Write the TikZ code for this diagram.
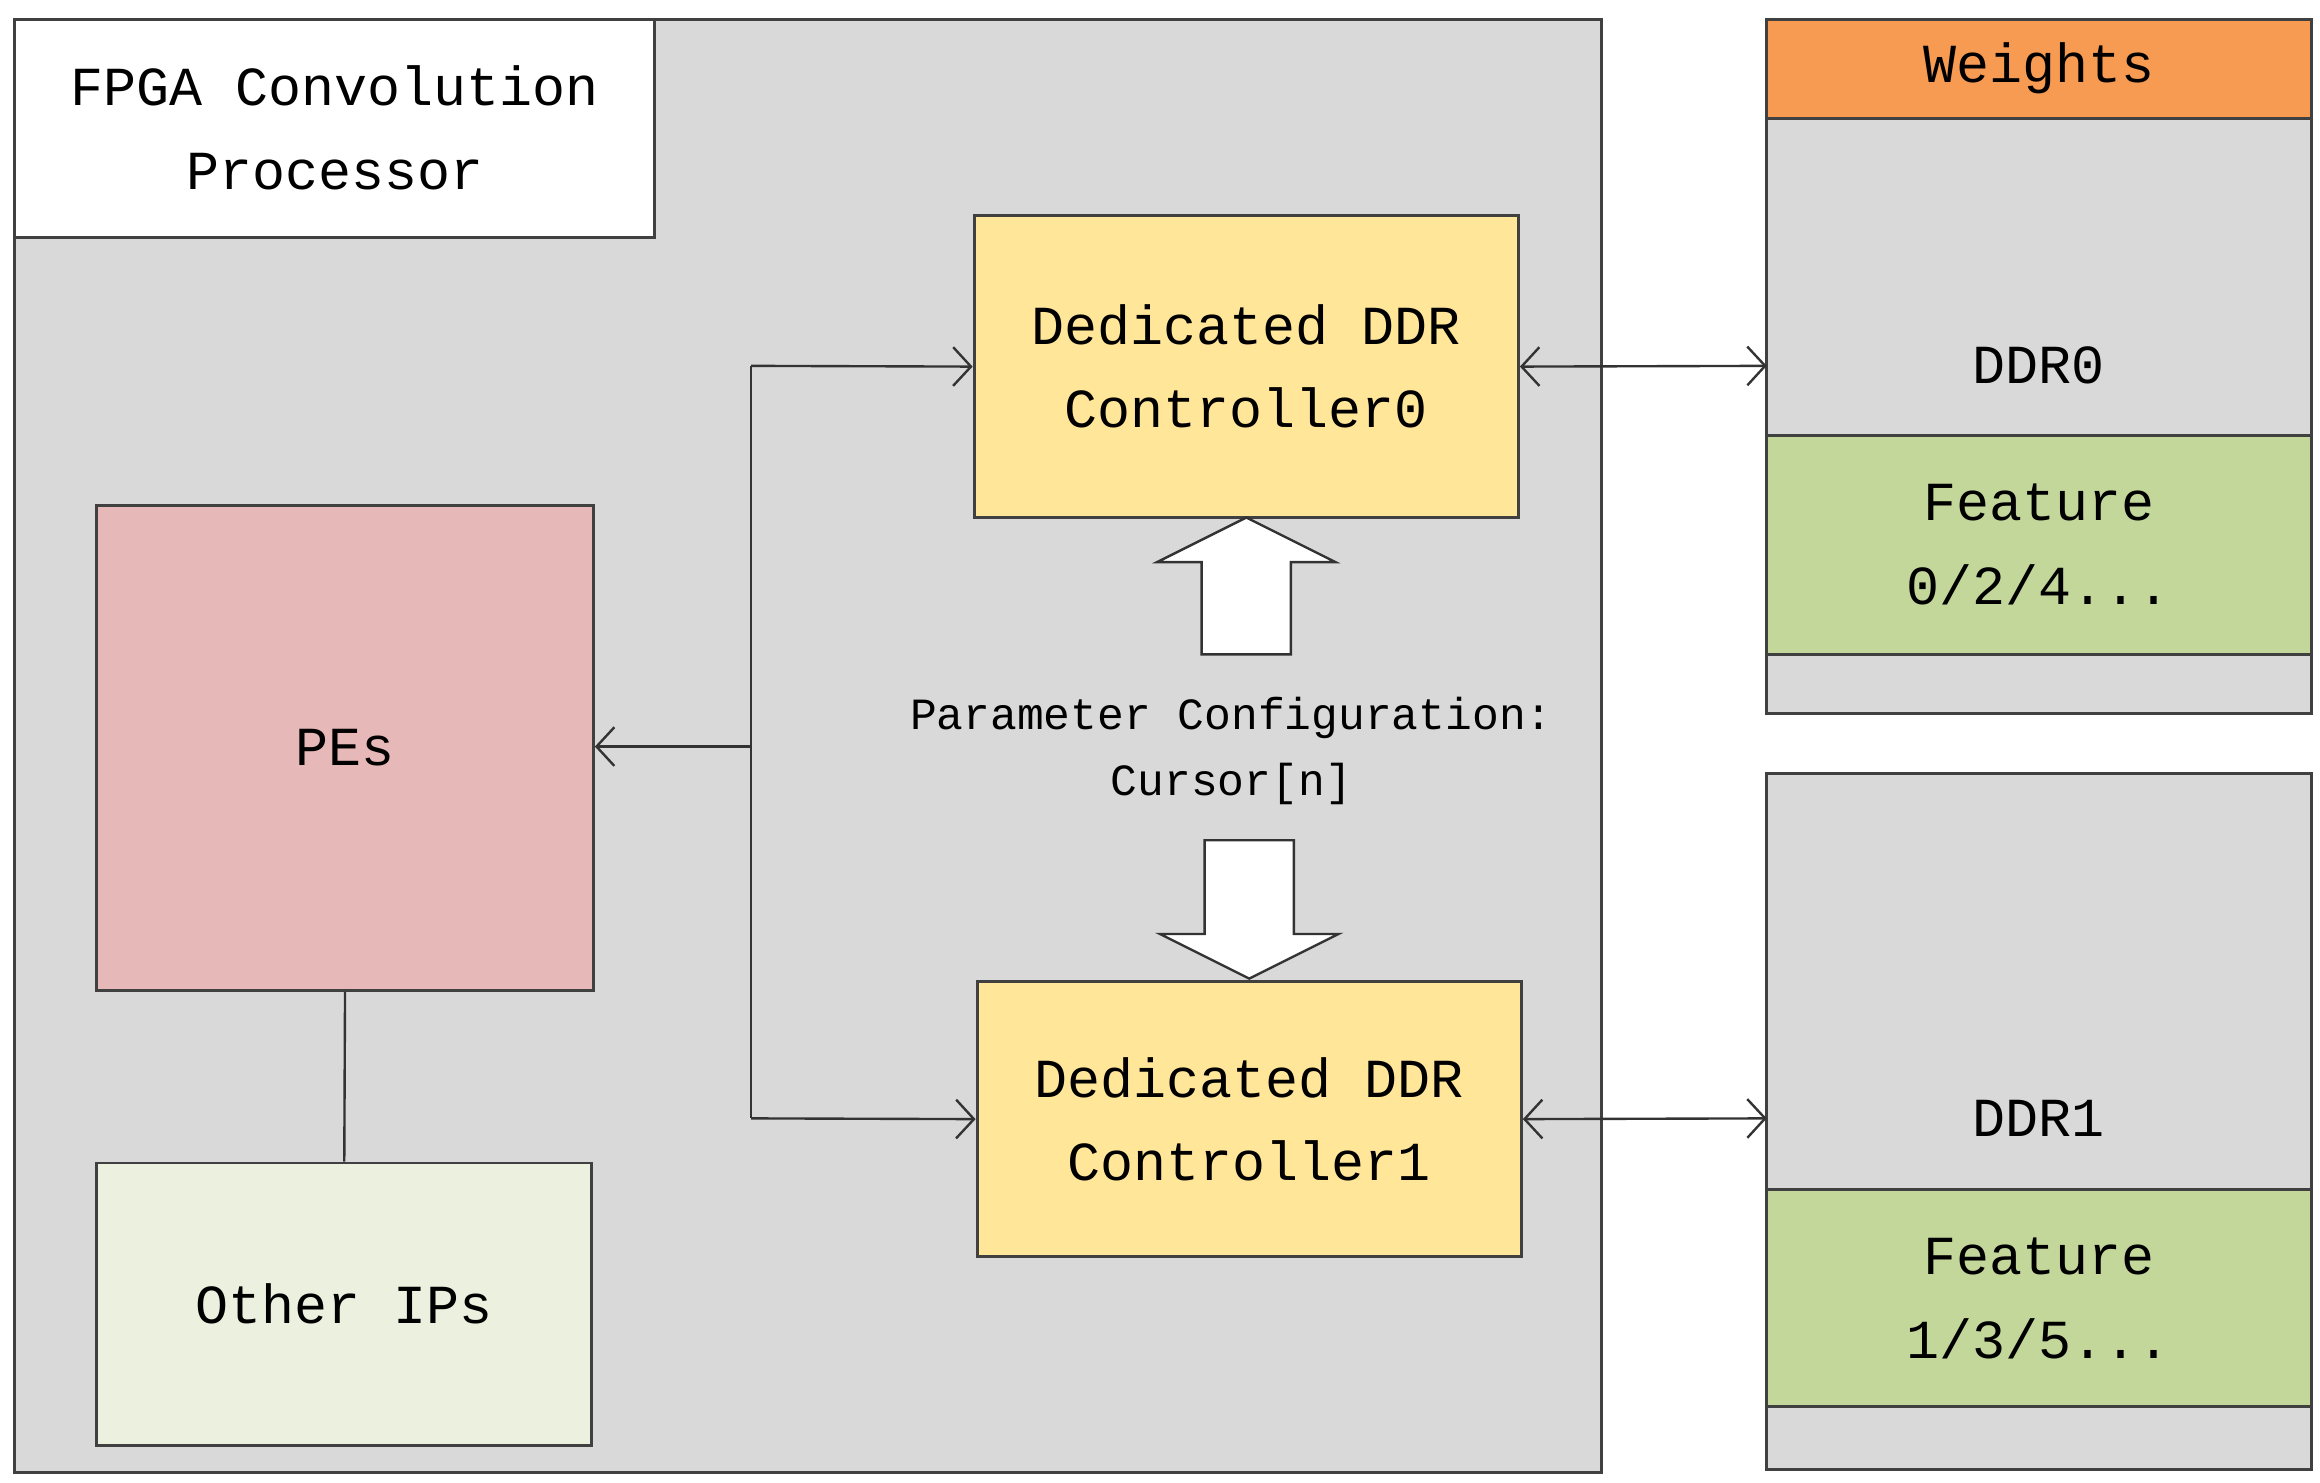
\documentclass[tikz,border=0pt]{standalone}
\usepackage{fontspec}
\setmainfont{Liberation Mono}
\usetikzlibrary{arrows.meta}
\begin{document}
\begin{tikzpicture}[x=1pt,y=-1pt,
  bx/.style={draw=black!75,line width=2pt},
  ar/.style={line width=1.6pt,draw=black!80,-{Straight Barb[length=12pt,width=26pt]}},
  dar/.style={line width=1.6pt,draw=black!80,{Straight Barb[length=12pt,width=26pt]}-{Straight Barb[length=12pt,width=26pt]}},
  txt/.style={font=\fontsize{37}{56}\selectfont,align=center}]
\useasboundingbox (0,0) rectangle (1560,997);
\definecolor{bg}{HTML}{D9D9D9}
\definecolor{ctl}{HTML}{FFE699}
\definecolor{pe}{HTML}{E6B8B7}
\definecolor{oip}{HTML}{EBF1DE}
\definecolor{wt}{HTML}{F79A52}
\definecolor{ft}{HTML}{C4D79B}
\draw[bx,fill=bg] (10,13) rectangle (1077,990);
\draw[bx,fill=white] (10,13) rectangle (440,160);
\node[txt] (title) at (225,86) {FPGA Convolution\\Processor};
\node[bx,fill=ctl,minimum width=366pt,minimum height=203pt,txt] (c0) at (838,246.5) {Dedicated DDR\\Controller0};
\node[bx,fill=ctl,minimum width=366pt,minimum height=185pt,txt] (c1) at (840,752.5) {Dedicated DDR\\Controller1};
\node[bx,fill=pe,minimum width=334pt,minimum height=326pt,txt] (pe) at (232,503) {PEs};
\node[bx,fill=oip,minimum width=333pt,minimum height=190pt,txt] (oi) at (231.5,877) {Other IPs};
\coordinate (j0) at (505,246);
\coordinate (j1) at (505,752);
\coordinate (jm) at (505,502);
\draw[line width=1.6pt,draw=black!80] (j0) -- (j1);
\draw[ar] (j0) -- (c0.west);
\draw[ar] (j1) -- (c1.west);
\draw[ar] (jm) -- (pe.east |- jm);
\draw[line width=1.6pt,draw=black!80] (pe.south) -- (oi.north);
% block arrows
\draw[line width=1.6pt,draw=black!80,fill=white] (838,348) -- (898,378) -- (868,378) -- (868,440) -- (808,440) -- (808,378) -- (778,378) -- cycle;
\draw[line width=1.6pt,draw=black!80,fill=white] (840,658) -- (900,628) -- (870,628) -- (870,565) -- (810,565) -- (810,628) -- (780,628) -- cycle;
\node[font=\fontsize{30}{44}\selectfont,align=center] (pc) at (828,505) {Parameter Configuration:\\Cursor[n]};
% DDR0
\draw[bx,fill=bg] (1188,13) rectangle (1554,480);
\draw[bx,fill=wt] (1188,13) rectangle (1554,80);
\draw[bx,fill=ft] (1188,293) rectangle (1554,440);
\node[txt] (w) at (1371,46) {Weights};
\node[txt] (d0) at (1371,246) {DDR0};
\node[txt] (f0) at (1371,366) {Feature\\0/2/4...};
% DDR1
\draw[bx,fill=bg] (1188,520) rectangle (1554,988);
\draw[bx,fill=ft] (1188,800) rectangle (1554,946);
\node[txt] (d1) at (1371,752) {DDR1};
\node[txt] (f1) at (1371,873) {Feature\\1/3/5...};
\coordinate (m0) at (1188,246);
\coordinate (m1) at (1188,752);
\draw[dar] (c0.east) -- (m0);
\draw[dar] (c1.east) -- (m1);
\end{tikzpicture}
\end{document}
